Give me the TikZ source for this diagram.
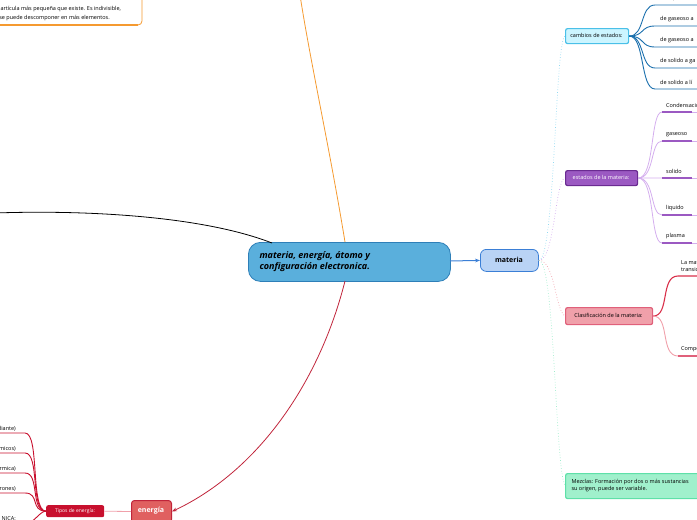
\documentclass[tikz,border=0pt]{standalone}
\usepackage{fontspec}
\setmainfont{Open Sans}
\usetikzlibrary{arrows.meta}
\definecolor{cblue}{HTML}{5AAFDC}
\definecolor{cblueb}{HTML}{2E7FB8}
\definecolor{mblue}{HTML}{B9D3F5}
\definecolor{mblueb}{HTML}{3B7FD6}
\definecolor{ered}{HTML}{E06060}
\definecolor{eredb}{HTML}{C0243A}
\definecolor{tred}{HTML}{C8102E}
\definecolor{cyanf}{HTML}{CCF5FF}
\definecolor{cyanb}{HTML}{4AC0E8}
\definecolor{dblue}{HTML}{1A6FAD}
\definecolor{purf}{HTML}{9B59C2}
\definecolor{purb}{HTML}{6A2B91}
\definecolor{lpur}{HTML}{D4AEEE}
\definecolor{pinkf}{HTML}{F0A0AA}
\definecolor{pinkb}{HTML}{E0607A}
\definecolor{crim}{HTML}{D9304A}
\definecolor{greenf}{HTML}{A0F0CC}
\definecolor{greenb}{HTML}{5EE0A8}
\definecolor{orng}{HTML}{F59A30}
\tikzset{
  lbl/.style={font=\fontsize{5.5}{7}\selectfont, anchor=south west, inner sep=1pt},
  box/.style={rounded corners=2pt, line width=1.2pt, font=\fontsize{5.5}{7}\selectfont, inner sep=0pt, anchor=north west},
}
\begin{document}
\begin{tikzpicture}[x=1pt,y=-1pt]
\useasboundingbox (0,0) rectangle (697,520);
\clip (0,0) rectangle (697,520);
% top-left orange box
\draw[orng, rounded corners=4pt, line width=0.8pt, fill=white] (-10,-10) -- (142,-10) -- (142,25) -- (-10,25);
\node[lbl, anchor=west] (atom1) at (-4,9) {partícula más pequeña que existe. Es indivisible,};
\node[lbl, anchor=west] (atom2) at (-10,18) {no se puede descomponer en más elementos.};
\draw[orng, line width=1.2pt] (-10,25) -- (138,25);
% central
\node[draw=cblueb, fill=cblue, rounded corners=12pt, line width=0.8pt, minimum width=202pt, minimum height=39pt, anchor=north west, inner sep=0pt] (center) at (248,242) {};
\node[anchor=west, align=left, font=\fontsize{9}{11}\selectfont\bfseries\itshape] (ctext) at (256,261.5) {materia, energía, átomo y\\configuración electronica.};
\draw[orng, line width=0.8pt] (345,242) .. controls (330,150) and (310,60) .. (300,-5);
\draw[black, line width=0.8pt] (272,243) .. controls (200,215) and (80,210) .. (-5,213);
% materia
\node[draw=mblueb, fill=mblue, rounded corners=6pt, line width=0.8pt, minimum width=58pt, minimum height=22pt, inner sep=0pt, anchor=north west] (materia) at (480,249) {};
\node[font=\fontsize{7}{8}\selectfont\bfseries] (mt) at (509,260) {materia};
\draw[mblueb, line width=1pt, -{Stealth[length=5pt]}] (450,261) -- (materia.west);
% energia
\node[draw=eredb, fill=ered, rounded corners=3pt, line width=1pt, minimum width=40pt, minimum height=22pt, inner sep=0pt, anchor=north west] (energia) at (131,500) {};
\node[font=\fontsize{7}{8}\selectfont\bfseries, text=white] (et) at (151,511) {energía};
\draw[eredb, line width=0.8pt, -{Stealth[length=5pt]}] (345,281) .. controls (320,380) and (260,470) .. (energia.east);
\node[fill=tred, rounded corners=2pt, minimum width=58pt, minimum height=12pt, inner sep=0pt, anchor=north west] (tipos) at (46,505) {};
\node[font=\fontsize{5}{6}\selectfont, text=white] (tt) at (75,511) {Tipos de energía:};
\draw[pinkf, line width=0.8pt] (tipos.east) -- (energia.west);
\foreach \yy/\t in {433/diante), 453/micos), 473/rmica), 493/rones)} {
  \draw[tred, line width=0.9pt] (tipos.west) .. controls (30,511) and (40,\yy) .. (25,\yy) -- (-5,\yy);
  \node[lbl, anchor=south east] at (17,\yy) {\t};
}
\draw[tred, line width=0.9pt] (tipos.west) .. controls (40,511) and (35,522) .. (25,525);
\node[lbl, anchor=south east] at (17,522) {NICA:};
% right side connectors
\draw[cyanb!60, dotted, line width=0.7pt] (materia.east) .. controls (555,260) and (555,40) .. (565,36);
\draw[lpur, dotted, line width=0.7pt] (materia.east) .. controls (555,260) and (555,180) .. (565,178);
\draw[pinkf, dotted, line width=0.7pt] (materia.east) .. controls (555,260) and (555,310) .. (565,316);
\draw[greenb!60, dotted, line width=0.7pt] (materia.east) .. controls (555,260) and (555,470) .. (565,485);
% cambios
\node[box, draw=cyanb, fill=cyanf, minimum width=63pt, minimum height=15pt] (cambios) at (565,28) {};
\node[font=\fontsize{5.5}{7}\selectfont] at (596.5,35.5) {cambios de estados:};
\foreach \yy/\t in {5/{de líquido a}, 26/de gaseoso a, 47/de gaseoso a, 68/de solido a ga, 89/de solido a lí} {
  \draw[dblue, line width=0.9pt] (cambios.east) .. controls (645,36) and (640,\yy) .. (655,\yy) -- (700,\yy);
  \node[lbl] at (659,\yy-3) {\t};
}
% estados
\node[box, draw=purb, fill=purf, minimum width=72pt, minimum height=15pt] (estados) at (565,170) {};
\node[font=\fontsize{5.5}{7}\selectfont, text=white] at (601,177.5) {estados de la materia:};
\foreach \yy/\t in {112/Condensación, 141/gaseoso, 178/solido, 215/liquido, 243/plasma} {
  \draw[lpur, line width=0.8pt] (estados.east) .. controls (655,178) and (650,\yy) .. (662,\yy);
  \draw[purf, line width=1.1pt] (662,\yy) -- (692,\yy);
  \draw[lpur, line width=0.6pt] (692,\yy) -- (700,\yy);
  \node[lbl] at (665,\yy-3) {\t};
}
% clasificacion
\node[box, draw=pinkb, fill=pinkf, minimum width=87pt, minimum height=17pt] (clas) at (565,307) {};
\node[font=\fontsize{5.5}{7}\selectfont] at (608.5,315.5) {Clasificación de la materia:};
\draw[crim, line width=1.1pt] (clas.east) .. controls (670,316) and (660,276) .. (678,276) -- (700,276);
\draw[pinkf, line width=0.9pt] (clas.east) .. controls (670,316) and (660,356) .. (678,356);
\draw[pinkb, line width=1.1pt] (678,356) -- (700,356);
\node[lbl, align=left] at (680,273) {La materia\\transición};
\node[lbl] at (680,353) {Composición};
% mezclas
\node[box, draw=greenb, fill=greenf, minimum width=150pt, minimum height=25pt] (mezclas) at (565,473) {};
\node[font=\fontsize{5.5}{7}\selectfont, align=left, anchor=west] at (568,485.5) {Mezclas: Formación por dos o más sustancias\\su origen, puede ser variable.};
\end{tikzpicture}
\end{document}
